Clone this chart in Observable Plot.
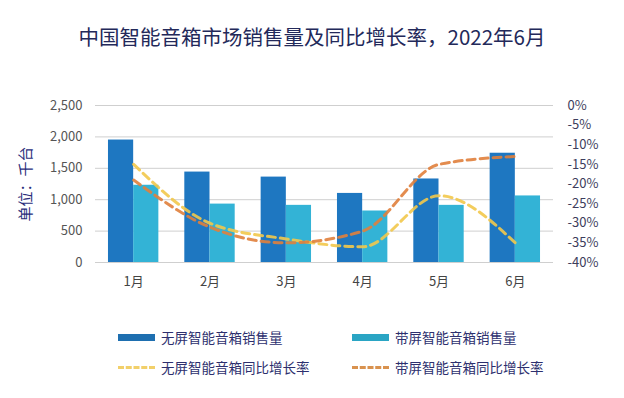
<!DOCTYPE html>
<html><head><meta charset="utf-8">
<script src="https://cdn.jsdelivr.net/npm/d3@7"></script>
<script src="https://cdn.jsdelivr.net/npm/@observablehq/plot@0.6"></script>
<style>
body{margin:0;background:#fff;font-family:"Noto Sans CJK SC","Noto Sans",sans-serif;}
#wrap{position:relative;width:624px;height:398px;overflow:hidden;background:#fff;}
#title{position:absolute;top:21px;left:0;width:624px;text-align:center;font-size:20.5px;color:#23295a;}
#chart{position:absolute;top:90px;left:0;}
#ylab{position:absolute;left:-25px;top:172px;width:100px;height:24px;line-height:24px;text-align:center;transform:rotate(-90deg);transform-origin:center;font-size:15px;color:#2b2f7c;white-space:nowrap;}
.leg{position:absolute;font-size:13.5px;color:#2d2f6e;display:flex;align-items:center;white-space:nowrap;}
.sw{display:inline-block;width:37px;height:7px;margin-right:6px;}
.dash{display:inline-block;width:37px;height:0;border-top:3px dashed;margin-right:6px;}
</style></head>
<body><div id="wrap">
<div id="title">中国智能音箱市场销售量及同比增长率，2022年6月</div>
<div id="chart"></div>
<div id="ylab">单位：千台</div>
<div class="leg" style="left:118px;top:327px"><span class="sw" style="background:#1e6fb0"></span>无屏智能音箱销售量</div>
<div class="leg" style="left:352px;top:327px"><span class="sw" style="background:#2aa5c4"></span>带屏智能音箱销售量</div>
<div class="leg" style="left:118px;top:357px"><span class="dash" style="border-color:#f2d06a"></span>无屏智能音箱同比增长率</div>
<div class="leg" style="left:352px;top:357px"><span class="dash" style="border-color:#d9924f"></span>带屏智能音箱同比增长率</div>
</div>
<script>
const months = ["1月","2月","3月","4月","5月","6月"];
const noScreenSales = [1950, 1440, 1360, 1100, 1330, 1740];
const screenSales = [1230, 930, 910, 820, 910, 1060];
const noScreenGrowth = [-15, -30, -34, -36, -23, -35];
const screenGrowth = [-19, -31, -35, -32, -15, -13];
const leftTicks = [0, 500, 1000, 1500, 2000, 2500];
const rightTicks = [0, -5, -10, -15, -20, -25, -30, -35, -40];

const k = 2500 / 40;
const toY = p => (p + 40) * k;
const rows = months.map((m, i) => ({i, m, a: noScreenSales[i], b: screenSales[i], ga: noScreenGrowth[i], gb: screenGrowth[i]}));
const w = 0.33;

const chart = Plot.plot({
  width: 624, height: 210,
  marginLeft: 95, marginRight: 71, marginTop: 15, marginBottom: 38,
  style: {fontFamily: '"Noto Sans CJK SC","Noto Sans",sans-serif', fontSize: "13px", color: "#555"},
  x: {domain: [-0.5, 5.5], axis: null},
  y: {domain: [0, 2500], axis: null},
  marks: [
    Plot.ruleY(leftTicks, {stroke: "#cfcfcf", strokeWidth: 1}),
    Plot.rectY(rows, {x1: d => d.i - w, x2: d => d.i, y1: 0, y2: "a", fill: "#1e77c1"}),
    Plot.rectY(rows, {x1: d => d.i, x2: d => d.i + w, y1: 0, y2: "b", fill: "#33b3d6"}),
    Plot.line(rows, {x: "i", y: d => toY(d.ga), stroke: "#f2c84b", strokeWidth: 3, strokeDasharray: "8,5", curve: "monotone-x", strokeOpacity: 0.9}),
    Plot.line(rows, {x: "i", y: d => toY(d.gb), stroke: "#e0803c", strokeWidth: 3, strokeDasharray: "8,5", curve: "monotone-x", strokeOpacity: 0.9}),
    Plot.axisY(leftTicks, {anchor: "left", tickSize: 0, tickPadding: 13, tickFormat: d3.format(","), fill: "#555", fontSize: 13, label: null}),
    Plot.axisY(rightTicks.map(toY), {anchor: "right", tickSize: 0, tickPadding: 14, tickFormat: v => `${Math.round(v / k - 40)}%`, fill: "#3d3d5c", fontSize: 13, textAnchor: "start", label: null}),
    Plot.axisX(rows.map(d => d.i), {anchor: "bottom", tickSize: 0, tickPadding: 14, tickFormat: i => months[i], fill: "#444", fontSize: 13, label: null})
  ]
});
document.getElementById("chart").appendChild(chart);
</script>
</body></html>
